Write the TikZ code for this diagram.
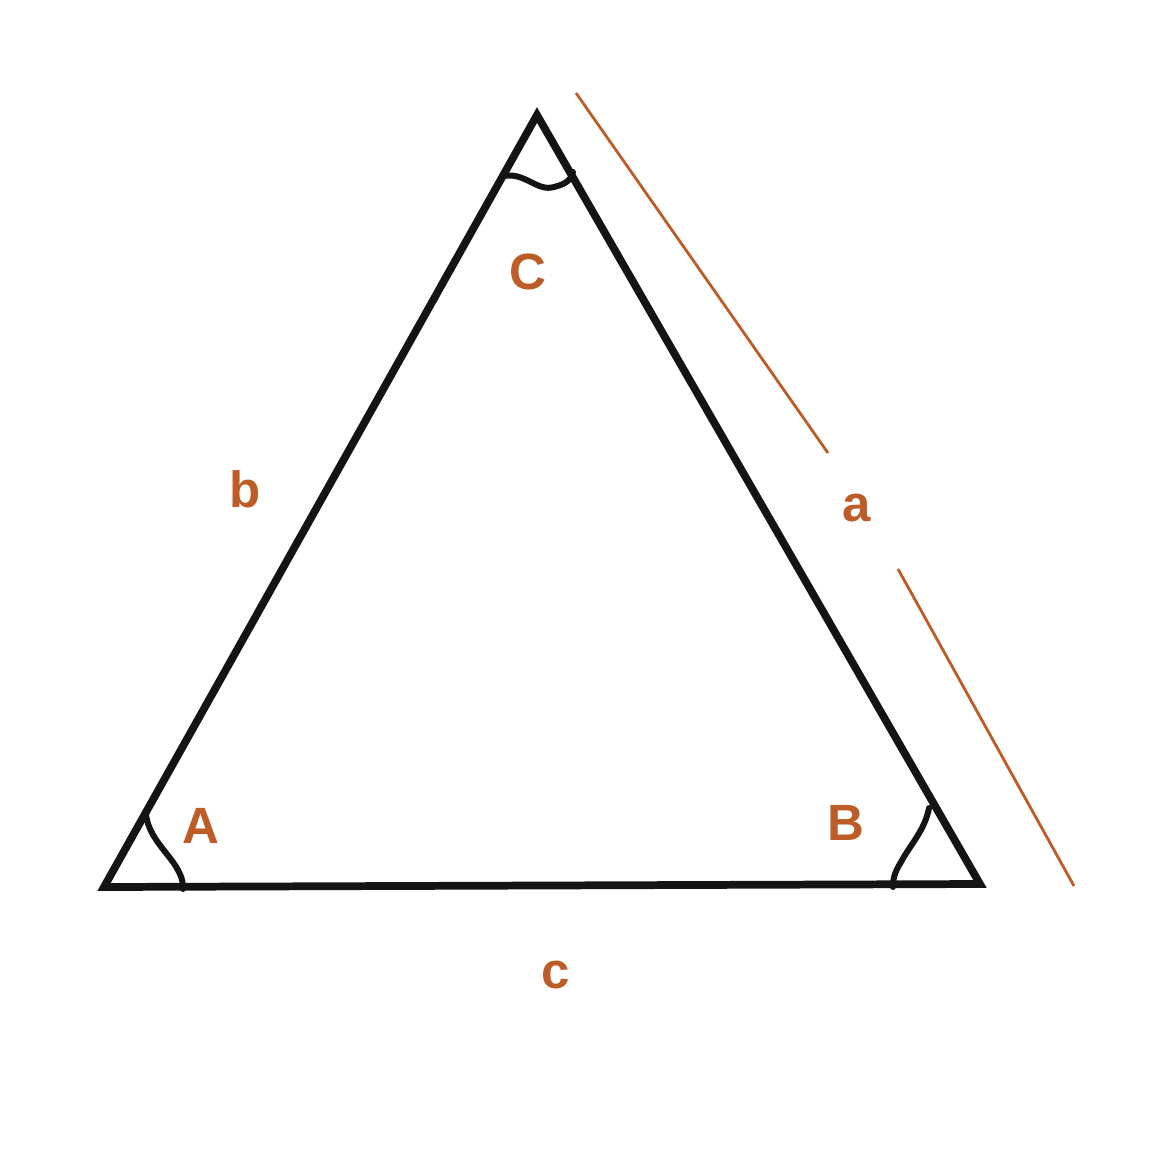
\documentclass[tikz,border=0pt]{standalone}
\usepackage{fontspec}
\setmainfont{Liberation Sans}
\definecolor{rust}{RGB}{190,92,40}
\begin{document}
\begin{tikzpicture}[x=0.01cm,y=-0.01cm,
  side/.style={line width=2.2pt,draw=black!92,line join=miter},
  anglemark/.style={line width=1.7pt,draw=black!92,line cap=round},
  dimline/.style={line width=0.8pt,draw=rust},
  lbl/.style={anchor=base,text=rust,font=\fontsize{14.5}{16}\selectfont\bfseries,inner sep=0pt}]
\useasboundingbox[fill=white] (0,0) rectangle (1160,1160);
\coordinate (A) at (104,887);
\coordinate (C) at (537,115);
\coordinate (B) at (980,884);
\draw[side] (A) -- (C) -- (B) -- cycle;
% angle marks
\draw[anglemark] (504,176) .. controls (525,172) and (537,192) .. (554,187) .. controls (566,184) and (571,180) .. (573,172);
\draw[anglemark] (146,814) .. controls (148,835) and (165,850) .. (175,865) .. controls (182,876) and (183,882) .. (183,889);
\draw[anglemark] (929,808) .. controls (925,830) and (910,845) .. (901,862) .. controls (894,873) and (893,880) .. (893,887);
% dimension lines for a
\coordinate (a1) at (576,93);
\coordinate (a2) at (828,453);
\coordinate (a3) at (898,569);
\coordinate (a4) at (1074,886);
\draw[dimline] (a1) -- (a2);
\draw[dimline] (a3) -- (a4);
% labels
\node[lbl] (lC) at (528,289) {C};
\node[lbl] (lb) at (245,507) {b};
\node[lbl] (la) at (857,521) {a};
\node[lbl] (lA) at (201,843) {A};
\node[lbl] (lB) at (846,840) {B};
\node[lbl] (lc) at (556,988) {c};
\end{tikzpicture}
\end{document}
